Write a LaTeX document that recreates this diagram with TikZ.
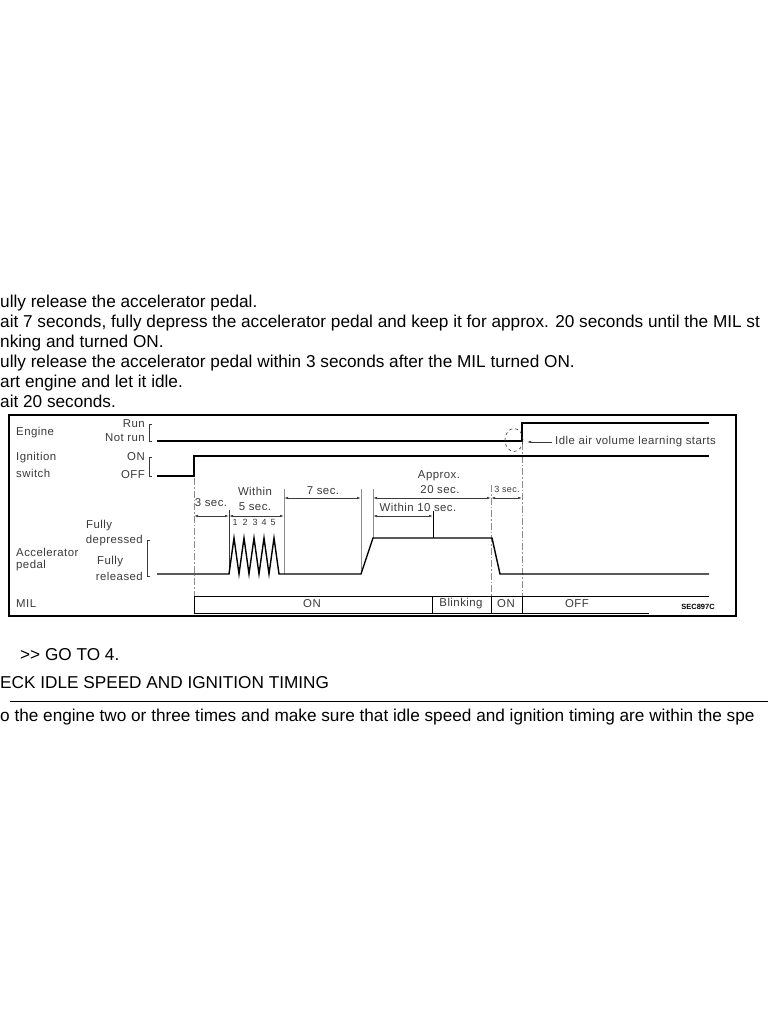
\documentclass[tikz,border=0pt]{standalone}
\usepackage{fontspec}
\setmainfont{Liberation Sans}
\newfontfamily\diafont[LetterSpace=4]{Liberation Sans}
\usetikzlibrary{arrows.meta,shapes.geometric}
\definecolor{txtgray}{HTML}{3A3A3A}
\definecolor{extgray}{HTML}{8C8C8C}
\begin{document}
\begin{tikzpicture}[x=1pt,y=-1pt,
  body/.style={anchor=base west, inner sep=0, font=\fontsize{17.2}{20}\selectfont},
  lab/.style={inner sep=0, text=txtgray, font=\diafont\fontsize{11.4}{13}\selectfont},
  labr/.style={lab, anchor=east},
  labl/.style={lab, anchor=west},
  small/.style={inner sep=0, text=txtgray, font=\diafont\fontsize{9}{10}\selectfont},
  sig/.style={line width=1.4pt, line join=miter},
  thinline/.style={line width=0.8pt},
  ext/.style={line width=0.6pt, draw=extgray},
  ddot/.style={line width=0.6pt, draw=extgray, dash pattern=on 7pt off 2pt on 1.5pt off 2pt},
  dimline/.style={line width=0.6pt, draw=txtgray, {Latex[length=4pt,width=2.4pt]}-{Latex[length=4pt,width=2.4pt]}},
  brk/.style={line width=0.6pt, draw=txtgray}]
\useasboundingbox (0,0) rectangle (768,1024);
\fill[white] (0,0) rectangle (768,1024);

% ---- body text ----
\node[body] (t1) at (0,307) {ully release the accelerator pedal.};
\node[body] (t2) at (0,327) {ait 7 seconds, fully depress the accelerator pedal and keep it for approx. 20 seconds until the MIL st};
\node[body] (t3) at (0,347) {nking and turned ON.};
\node[body] (t4) at (0,367) {ully release the accelerator pedal within 3 seconds after the MIL turned ON.};
\node[body] (t5) at (0,387) {art engine and let it idle.};
\node[body] (t6) at (0,407) {ait 20 seconds.};

% ---- frame ----
\draw[line width=1.6pt] (9,415) rectangle (736,616);

% ---- left labels ----
\node[labl] (engine) at (16,433) {Engine};
\node[labl] (ign1) at (16,458) {Ignition};
\node[labl] (ign2) at (16,473) {switch};
\node[labl] (acc1) at (16,552) {Accelerator};
\node[labl] (acc2) at (16,566) {pedal};
\node[labl] (mil) at (16,604) {MIL};

\node[labr] (run) at (145,424) {Run};
\node[labr] (notrun) at (145,438) {Not run};
\node[labr] (on) at (145,457) {ON};
\node[labr] (off) at (145,475) {OFF};
\node[labl] (fully1) at (86,526) {Fully};
\node[labr] (depr) at (143,541) {depressed};
\node[labl] (fully2) at (97,562) {Fully};
\node[labr] (rel) at (143,576) {released};

% brackets
\draw[brk] (152,424) -- (149,424) -- (149,441) -- (152,441);
\draw[brk] (152,457) -- (149,457) -- (149,476) -- (152,476);
\draw[brk] (150,540) -- (147,540) -- (147,576) -- (150,576);

% ---- extension / dash-dot lines ----
\draw[ddot] (194,478) -- (194,596);
\draw[ddot] (491,485) -- (491,596);
\draw[ddot] (522,443) -- (522,596);
\draw[ext] (284,489) -- (284,574);
\draw[ext] (361,489) -- (361,574);
\draw[ext] (373,489) -- (373,538);
\draw[thinline, draw=txtgray] (229,510) -- (229,574);
\draw[thinline] (433,511) -- (433,538);

% ---- signals ----
\draw[sig] (157,441) -- (522,441) -- (522,423) -- (709,423);
\draw[sig] (157,476) -- (194,476) -- (194,456) -- (709,456);
\draw[sig] (157,574) -- (229,574) -- (234,538) -- (239,574) -- (244,538) -- (249,574)
  -- (254,538) -- (259,574) -- (264,538) -- (269,574) -- (274,538) -- (279,574)
  -- (361,574) -- (373,538) -- (492,538) -- (500,574) -- (709,574);

% ---- idle air volume ----
\node[draw=txtgray, dashed, line width=0.6pt, ellipse, minimum width=18pt, minimum height=23pt, inner sep=0] (circ) at (514,440) {};
\node[labl] (idle) at (555,442) {Idle air volume learning starts};
\draw[line width=0.6pt, draw=txtgray, -{Latex[length=4pt,width=2.4pt]}] (idle.west) ++(-3,0) -- (527,442);

% ---- dimensions ----
\draw[dimline] (194,516) -- (229,516);
\node[lab] (d3a) at (211,503) {3 sec.};
\draw[dimline] (229,516) -- (284,516);
\node[lab] (w5a) at (255,491) {Within};
\node[lab] (w5b) at (255,507) {5 sec.};
\foreach \n/\x in {1/235,2/245,3/255,4/264,5/273}
  \node[small] (dig\n) at (\x,522) {\n};
\draw[dimline] (284,498) -- (361,498);
\node[lab] (d7) at (323,491) {7 sec.};
\draw[dimline] (373,498) -- (491,498);
\node[lab] (ap1) at (439,476) {Approx.};
\node[lab] (ap2) at (440,490) {20 sec.};
\draw[dimline] (373,516) -- (433,516);
\node[lab] (w10) at (418,507) {Within 10 sec.};
\draw[dimline] (491,498) -- (522,498);
\node[small] (d3b) at (507,489) {3 sec.};

% ---- MIL box ----
\draw[thinline] (709,596) -- (194,596) -- (194,613) -- (649,613);
\draw[thinline] (432,596) -- (432,613);
\draw[thinline] (491,596) -- (491,613);
\draw[thinline] (522,596) -- (522,613);
\node[lab] (mon) at (312,604) {ON};
\node[lab] (mbl) at (461,604) {Blinking};
\node[lab] (mon2) at (506,604) {ON};
\node[lab] (moff) at (577,604) {OFF};
\node[inner sep=0, font=\bfseries\fontsize{7.5}{9}\selectfont] (sec) at (698,607) {SEC897C};

% ---- lower text ----
\node[body] (go) at (20,660) {>\kern0pt> GO TO 4.};
\node[body] (chk) at (0,688) {ECK IDLE SPEED AND IGNITION TIMING};
\draw[line width=0.9pt] (10,701) -- (768,701);
\node[body] (rev) at (0,721) {o the engine two or three times and make sure that idle speed and ignition timing are within the spe};
\end{tikzpicture}
\end{document}
